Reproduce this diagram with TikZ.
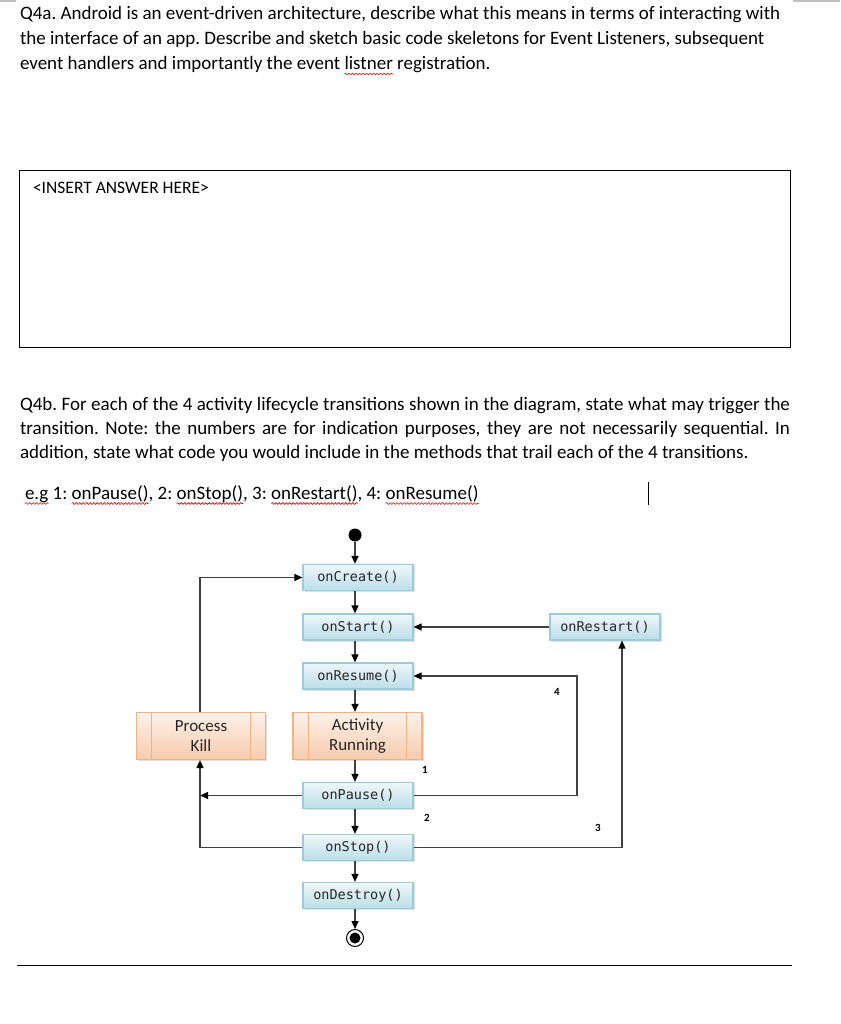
\documentclass[tikz,border=0pt]{standalone}
\usepackage{fontspec}
\setmainfont{Carlito}
\newfontfamily\codefont{DejaVu Sans Mono}
\usetikzlibrary{arrows.meta,shadows,calc,decorations.pathmorphing}
\definecolor{bluebd}{HTML}{9CCBDD}
\definecolor{bluetop}{HTML}{EEF7FA}
\definecolor{bluebot}{HTML}{BCDDE9}
\definecolor{orbd}{HTML}{F4B183}
\definecolor{ortop}{HTML}{FDF1E9}
\definecolor{orbot}{HTML}{F8CBAD}
\definecolor{linec}{HTML}{404040}
\definecolor{txtc}{HTML}{262626}
\tikzset{
  qtext/.style={inner sep=0pt, outer sep=0pt, anchor=base west, font=\fontsize{19}{23}\selectfont},
  wave/.style={red, line width=0.6pt, decorate, decoration={snake, amplitude=0.9pt, segment length=3.5pt}},
  method/.style={draw=bluebd, line width=1.2pt, top color=bluetop, bottom color=bluebot,
     minimum width=110pt, minimum height=26pt, inner sep=0pt, text=txtc,
     font=\codefont\fontsize{13.5}{15}\selectfont,
     drop shadow={shadow xshift=1.5pt, shadow yshift=-1.5pt, opacity=0.25}},
  statebox/.style={draw=orbd, line width=1.2pt, top color=ortop, bottom color=orbot,
     minimum width=129pt, minimum height=47pt, inner sep=0pt, align=center, text=txtc,
     font=\fontsize{17}{20}\selectfont,
     drop shadow={shadow xshift=1.5pt, shadow yshift=-1.5pt, opacity=0.25}},
  arr/.style={draw=linec, line width=1.3pt, -{Triangle[length=8pt,width=7pt,color=black]}},
  num/.style={font=\bfseries\fontsize{11}{12}\selectfont, inner sep=0pt},
}
\begin{document}
\frenchspacing
\begin{tikzpicture}[x=1pt,y=-1pt]
\useasboundingbox (0,0) rectangle (840,1024);
% top gray rules
\draw[gray!50, line width=1.5pt] (0,1) -- (16,1);
\draw[gray!50, line width=1.5pt] (793,1) -- (840,1);
% Q4a text
\node[qtext] (a1) at (20,20) {Q4a. Android is an event-driven architecture, describe what this means in terms of interacting with};
\node[qtext] (a2) at (20,45) {the interface of an app. Describe and sketch basic code skeletons for Event Listeners, subsequent};
\node[qtext] (a3a) at (20,70) {event handlers and importantly the event\ \null};
\node[qtext] (a3b) at (a3a.base east) {listner};
\node[qtext] (a3c) at (a3b.base east) {\ registration.};
\draw[wave] ($(a3b.base west)+(0,4)$) -- ($(a3b.base east)+(0,4)$);
% answer box
\draw[black, line width=1pt] (19,171) rectangle (790,347);
\node[qtext, font=\fontsize{17.5}{20}\selectfont] (ans) at (33,194) {<INSERT ANSWER HERE>};
% Q4b text
\node[qtext] (b1) at (20,410) {\makebox[770pt][s]{Q4b. For each of the 4 activity lifecycle transitions shown in the diagram, state what may trigger the}};
\node[qtext] (b2) at (20,434) {\makebox[770pt][s]{transition. Note: the numbers are for indication purposes, they are not necessarily sequential. In}};
\node[qtext] (b3) at (20,458) {addition, state what code you would include in the methods that trail each of the 4 transitions.};
\node[qtext] (g1) at (25,499) {e.g};
\node[qtext] (g2) at (g1.base east) {\ 1:\ \null};
\node[qtext] (g3) at (g2.base east) {onPause()};
\node[qtext] (g4) at (g3.base east) {,\ 2:\ \null};
\node[qtext] (g5) at (g4.base east) {onStop()};
\node[qtext] (g6) at (g5.base east) {,\ 3:\ \null};
\node[qtext] (g7) at (g6.base east) {onRestart()};
\node[qtext] (g8) at (g7.base east) {,\ 4:\ \null};
\node[qtext] (g9) at (g8.base east) {onResume()};
\foreach \g in {g1,g3,g5,g7,g9}{
  \draw[wave] ($(\g.base west)+(0,4.5)$) -- ($(\g.base east)+(0,4.5)$);
}
\draw[black, line width=1pt] (648,482) -- (648,505);
% diagram
\node[circle, fill=black, minimum size=13pt, inner sep=0pt] (init) at (355,535) {};
\node[method] (create) at (358,577.5) {onCreate()};
\node[method] (start) at (358,627) {onStart()};
\node[method] (resume) at (358,676) {onResume()};
\node[statebox] (run) at (357.5,736) {Activity\\Running};
\node[statebox] (pk) at (201,736) {Process\\Kill};
\node[method] (pause) at (358,795.5) {onPause()};
\node[method] (stop) at (358,847.5) {onStop()};
\node[method] (destroy) at (358,895.5) {onDestroy()};
\node[method] (restart) at (605,627) {onRestart()};
\node[circle, draw=black, fill=white, line width=1pt, minimum size=17pt, inner sep=0pt] (fin) at (355,938) {};
\node[circle, fill=black, minimum size=11pt, inner sep=0pt] (findot) at (fin) {};
% inner lines of state boxes
\foreach \b in {run,pk}{
  \draw[orbd, line width=1pt] ($(\b.north west)+(16,0)$) -- ($(\b.south west)+(16,0)$);
  \draw[orbd, line width=1pt] ($(\b.north east)+(-16,0)$) -- ($(\b.south east)+(-16,0)$);
}
% vertical flow arrows
\draw[arr] (init) -- (init |- create.north);
\draw[arr] (create.south -| init) -- (init |- start.north);
\draw[arr] (start.south -| init) -- (init |- resume.north);
\draw[arr] (resume.south -| init) -- (init |- run.north);
\draw[arr] (run.south -| init) -- (init |- pause.north);
\draw[arr] (pause.south -| init) -- (init |- stop.north);
\draw[arr] (stop.south -| init) -- (init |- destroy.north);
\draw[arr] (destroy.south -| init) -- (fin.north);
% process kill -> onCreate
\coordinate (pkx) at (200,0);
\draw[arr] (pkx |- pk.north) |- (create.west);
% onRestart -> onStart
\draw[arr] (restart.west) -- (start.east);
% onPause -> onResume (4)
\coordinate (c4) at (577,0);
\draw[arr] (pause.east) -| (c4 |- resume.east) -- (resume.east);
% onStop -> onRestart (3)
\coordinate (c3) at (622,0);
\draw[arr] (stop.east) -| (c3 |- restart.south);
% onPause -> process kill line
\draw[arr] (pause.west) -- (pkx |- pause.west);
% onStop -> Process Kill
\draw[arr] (stop.west) -| (pkx |- pk.south);
% labels
\node[num] (n1) at (425,770) {1};
\node[num] (n2) at (427,818) {2};
\node[num] (n3) at (598,828) {3};
\node[num] (n4) at (557,692) {4};
% bottom rule
\draw[black, line width=1pt] (17,965) -- (792,965);
\end{tikzpicture}
\end{document}
